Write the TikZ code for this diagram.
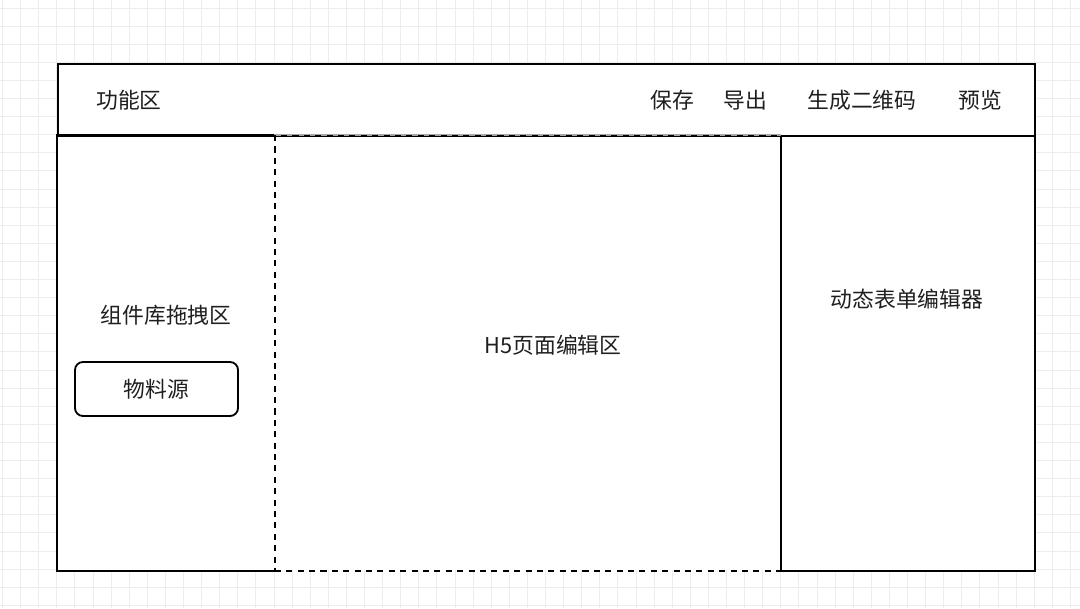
\documentclass[tikz,border=0pt]{standalone}
\usepackage{fontspec}
\setmainfont{Noto Sans CJK SC}
\usetikzlibrary{positioning, calc}
\tikzset{
  gridLine/.style={draw=black!7, line width=0.6pt},
  panel/.style={
    rectangle, inner sep=0pt, line width=1.3pt, draw=black
  },
  editArea/.style={
    rectangle, inner sep=0pt, line width=1.3pt, draw=black,
    dash pattern=on 4.3pt off 3.8pt
  },
  txt/.style={
    inner sep=1pt, text=black!88, font=\fontsize{15.5}{18}\selectfont
  },
  sourceBox/.style={
    rectangle, rounded corners=0.2cm, draw=black, line width=1.3pt,
    minimum width=4.075cm, minimum height=1.35cm, text=black!88,
    font=\fontsize{15.5}{18}\selectfont
  }
}

\begin{document}
\begin{tikzpicture}[x=0.025cm, y=-0.025cm]
\useasboundingbox (0,0) rectangle (1080,608);
% background grid
\foreach \i in {0,...,59}
  \draw[gridLine] ({2.5+18.1*\i},0) -- ({2.5+18.1*\i},608);
\foreach \j in {0,...,33}
  \draw[gridLine] (0,{8+18.1*\j}) -- (1080,{8+18.1*\j});

% panels
\fill[white] (57,63) rectangle (1034,570);
\node[panel, anchor=north west, minimum width=24.425cm, minimum height=1.8cm] (topBar) at (57,63) {};
\node[panel, anchor=north west, minimum width=6.35cm, minimum height=10.875cm] (formPanel) at (780,135) {};
\node[rectangle, inner sep=0pt, anchor=north west, minimum width=5.425cm, minimum height=10.875cm] (libPanel) at (57,135) {};
\draw[line width=1.3pt] (libPanel.north east) -- (libPanel.north west) -- (libPanel.south west) -- (libPanel.south east);
\node[rectangle, inner sep=0pt, anchor=north west, minimum width=12.65cm, minimum height=10.875cm] (editPanel) at (274,135) {};
\draw[white, line width=1.6pt] (editPanel.north west) -- (editPanel.north east);
\draw[black!35, line width=1.3pt] (editPanel.north west) -- (editPanel.north east);
\node[editArea, anchor=north west, minimum width=12.65cm, minimum height=10.875cm] at (274,135) {};

% top bar labels
\node[txt] (funcLabel) at (129,100) {功能区};
\node[txt] (saveBtn) at (672,100) {保存};
\node[txt] (exportBtn) at (745,100) {导出};
\node[txt] (qrBtn) at (862,100) {生成二维码};
\node[txt] (previewBtn) at (980,100) {预览};

% panel labels
\node[txt] (libLabel) at (166,315) {组件库拖拽区};
\node[sourceBox] (source) at (156.5,389) {物料源};
\node[txt] (editLabel) at (553,345) {H5页面编辑区};
\node[txt] (formLabel) at (907,299) {动态表单编辑器};
\end{tikzpicture}
\end{document}
